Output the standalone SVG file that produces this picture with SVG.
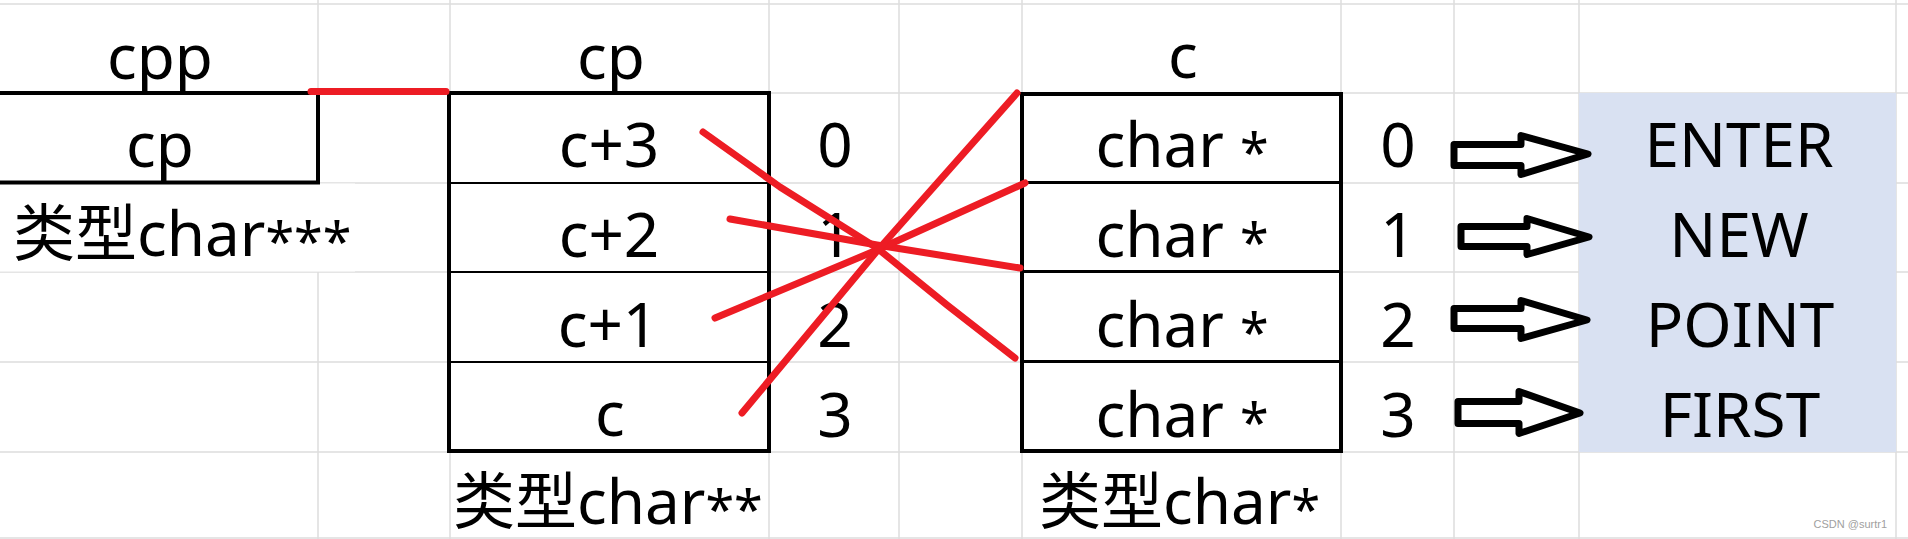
<svg xmlns="http://www.w3.org/2000/svg" width="1908" height="539" viewBox="0 0 1908 539">
<style>
.grid line{stroke:#dcdcdc;stroke-width:1.5}
.t{font-family:'Noto Sans','Noto Sans CJK SC',sans-serif;font-size:62px;fill:#000}
.m{text-anchor:middle}
.outer{fill:none;stroke:#000;stroke-width:4}
.inner{stroke:#000;stroke-width:2}
.inner3{stroke:#000;stroke-width:3}
.red{fill:none;stroke:#ed1c24;stroke-width:7;stroke-linecap:round;stroke-linejoin:round}
.arrow{fill:#fff;stroke:#000;stroke-width:7;stroke-linejoin:round}
.ast{font-size:52px}
</style>
<rect x="0" y="0" width="1908" height="539" fill="#fff"/>
<g class="grid" id="grid">
<line x1="0" y1="4" x2="1908" y2="4"/>
<line x1="0" y1="93" x2="1908" y2="93"/>
<line x1="0" y1="183" x2="1908" y2="183"/>
<line x1="0" y1="272" x2="1908" y2="272"/>
<line x1="0" y1="362" x2="1908" y2="362"/>
<line x1="0" y1="452" x2="1908" y2="452"/>
<line x1="0" y1="538" x2="1908" y2="538"/>
<line x1="318" y1="0" x2="318" y2="183"/>
<line x1="318" y1="272" x2="318" y2="539"/>
<line x1="450" y1="0" x2="450" y2="539"/>
<line x1="769" y1="0" x2="769" y2="539"/>
<line x1="899" y1="0" x2="899" y2="539"/>
<line x1="1022" y1="0" x2="1022" y2="539"/>
<line x1="1341" y1="0" x2="1341" y2="539"/>
<line x1="1454" y1="0" x2="1454" y2="539"/>
<line x1="1579" y1="0" x2="1579" y2="539"/>
<line x1="1896" y1="0" x2="1896" y2="539"/>
</g>
<rect x="0" y="183.5" width="355" height="88" fill="#fff"/>
<rect x="1579" y="93" width="317" height="359" fill="#d9e1f2"/>

<g id="cpp">
<text class="t m" x="160" y="79">cpp</text>
<rect class="outer" x="-5" y="93" width="323" height="89.5"/>
<text class="t m" x="160" y="167">cp</text>
<text class="t" x="13" y="256">类型char<tspan class="ast" dy="4">***</tspan></text>
</g>

<g id="cp-array">
<text class="t m" x="611" y="79">cp</text>
<rect class="outer" x="449" y="93" width="320" height="358"/>
<line class="inner" x1="449" y1="183" x2="769" y2="183"/>
<line class="inner" x1="449" y1="272" x2="769" y2="272"/>
<line class="inner" x1="449" y1="362" x2="769" y2="362"/>
<text class="t m" x="609" y="167">c+3</text>
<text class="t m" x="609" y="257">c+2</text>
<text class="t m" x="608" y="347">c+1</text>
<text class="t m" x="610" y="436">c</text>
<text class="t" x="453" y="524">类型char<tspan class="ast" dy="4">**</tspan></text>
</g>

<g id="cp-index">
<text class="t m" x="835" y="167">0</text>
<text class="t m" x="835" y="257">1</text>
<text class="t m" x="835" y="347">2</text>
<text class="t m" x="835" y="437">3</text>
</g>

<g id="c-array">
<text class="t m" x="1183" y="78">c</text>
<rect class="outer" x="1022" y="94" width="319" height="357"/>
<line class="inner3" x1="1022" y1="182.5" x2="1341" y2="182.5"/>
<line class="inner3" x1="1022" y1="271.5" x2="1341" y2="271.5"/>
<line class="inner3" x1="1022" y1="361.5" x2="1341" y2="361.5"/>
<text class="t m" x="1182" y="167">char <tspan class="ast" dy="4">*</tspan></text>
<text class="t m" x="1182" y="257">char <tspan class="ast" dy="4">*</tspan></text>
<text class="t m" x="1182" y="347">char <tspan class="ast" dy="4">*</tspan></text>
<text class="t m" x="1182" y="437">char <tspan class="ast" dy="4">*</tspan></text>
<text class="t" x="1039" y="524">类型char<tspan class="ast" dy="4">*</tspan></text>
</g>

<g id="c-index">
<text class="t m" x="1398" y="167">0</text>
<text class="t m" x="1398" y="257">1</text>
<text class="t m" x="1398" y="347">2</text>
<text class="t m" x="1398" y="437">3</text>
</g>

<g id="strings">
<text class="t m" x="1739" y="167">ENTER</text>
<text class="t m" x="1739" y="257">NEW</text>
<text class="t m" x="1740" y="347">POINT</text>
<text class="t m" x="1740" y="437">FIRST</text>
</g>

<g id="connectors">
<line class="red" x1="311" y1="91.5" x2="446" y2="91.5"/>
<polyline class="red" points="703,132 780,187 877,248 947,305 1015,358"/>
<polyline class="red" points="730,219 877,245 1020,268"/>
<polyline class="red" points="715,318 877,250 1025,183"/>
<polyline class="red" points="742,413 877,251 1017,93"/>
<path class="arrow" d="M1454,144.5 H1521 V135.5 L1588,154 L1521,174.5 V165.5 H1454 Z"/>
<path class="arrow" d="M1461,226.5 H1527 V218.5 L1589,237 L1527,254.5 V246.5 H1461 Z"/>
<path class="arrow" d="M1454,308.5 H1521 V300.5 L1587,320 L1521,338.5 V328.5 H1454 Z"/>
<path class="arrow" d="M1458,401.5 H1519 V391.5 L1580,413 L1519,433.5 V423.5 H1458 Z"/>
</g>

<text x="1887" y="528" text-anchor="end" font-family="'Liberation Sans',sans-serif" font-size="11" fill="#a0a0a0">CSDN @surtr1</text>
</svg>
